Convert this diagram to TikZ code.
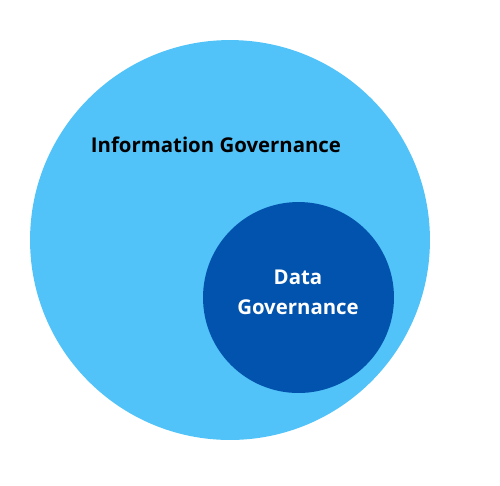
\documentclass[tikz,border=0pt]{standalone}
\usepackage{fontspec}
\setmainfont{Open Sans}
\usepackage{tikz}
\definecolor{infoblue}{HTML}{51C3F9}
\definecolor{datablue}{HTML}{0253AD}

\begin{document}
\begin{tikzpicture}[x=0.02cm, y=-0.02cm, every node/.style={circle, inner sep=0pt}, govtext/.style={rectangle, font=\bfseries\fontsize{11.6}{17}\selectfont, align=center}]
  \useasboundingbox (0,0) rectangle (500,485);
  \node[fill=infoblue, minimum size=8cm] (info) at (230,240) {};
  \node[fill=datablue, minimum size=3.82cm] (data) at (298.5,297.5) {};
  \node[govtext] (infotext) at (216,145) {Information Governance};
  \node[govtext, text=white] (datatext) at (298,292) {Data\\Governance};
\end{tikzpicture}
\end{document}
